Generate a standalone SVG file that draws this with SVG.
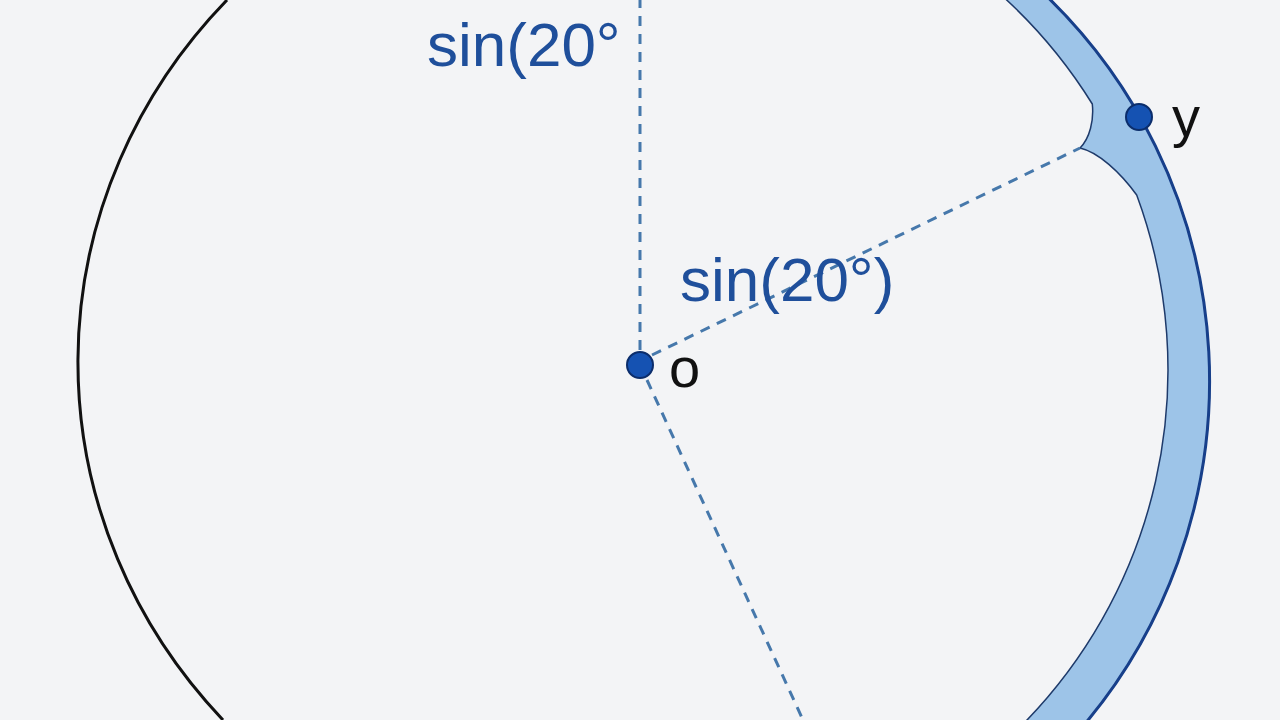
<svg xmlns="http://www.w3.org/2000/svg" width="1280" height="720" viewBox="0 0 1280 720">
<style>
.lbl{font-family:"Liberation Sans",Arial,sans-serif;fill:#1f4f9b}
.pt{font-family:"Liberation Sans",Arial,sans-serif;fill:#111}
.dash{stroke:#4678ab;stroke-width:3;fill:none;stroke-dasharray:10 8}
.dot{fill:#1552b2;stroke:#0b2d6b;stroke-width:2}
</style>
<rect width="1280" height="720" fill="#f3f4f6"/>
<g id="circle">
<path d="M 227 0 A 565 535 0 0 0 223 720" fill="none" stroke="#111" stroke-width="3"/>
</g>
<g id="band">
<path d="M 1038 -12 A 535 535 0 0 1 1078 732 L 1015.1 732 A 505 505 0 0 0 1136.7 195 C 1120 172 1098 152 1080 148 C 1090 138 1094 120 1092.3 104 A 505 505 0 0 0 993.3 -12 Z" fill="#9dc4e8" stroke="#1e3a6a" stroke-width="1.5"/>
<path d="M 1038 -12 A 535 535 0 0 1 1078 732" fill="none" stroke="#173f8a" stroke-width="3"/>
</g>
<g id="connectors">
<line class="dash" x1="640" y1="350" x2="640" y2="0"/>
<line class="dash" x1="652" y1="355" x2="1080" y2="148"/>
<line class="dash" x1="647" y1="380" x2="803" y2="720"/>
</g>
<g id="label-top"><text class="lbl" x="427" y="66" font-size="62">sin(20°</text></g>
<g id="label-mid"><text class="lbl" x="680" y="301" font-size="62">sin(20°)</text></g>
<g id="node-o">
<circle class="dot" cx="640" cy="365" r="13"/>
<text class="pt" x="669" y="387" font-size="56">o</text>
</g>
<g id="node-y">
<circle class="dot" cx="1139" cy="117" r="13"/>
<text class="pt" x="1172" y="136" font-size="56">y</text>
</g>
</svg>
